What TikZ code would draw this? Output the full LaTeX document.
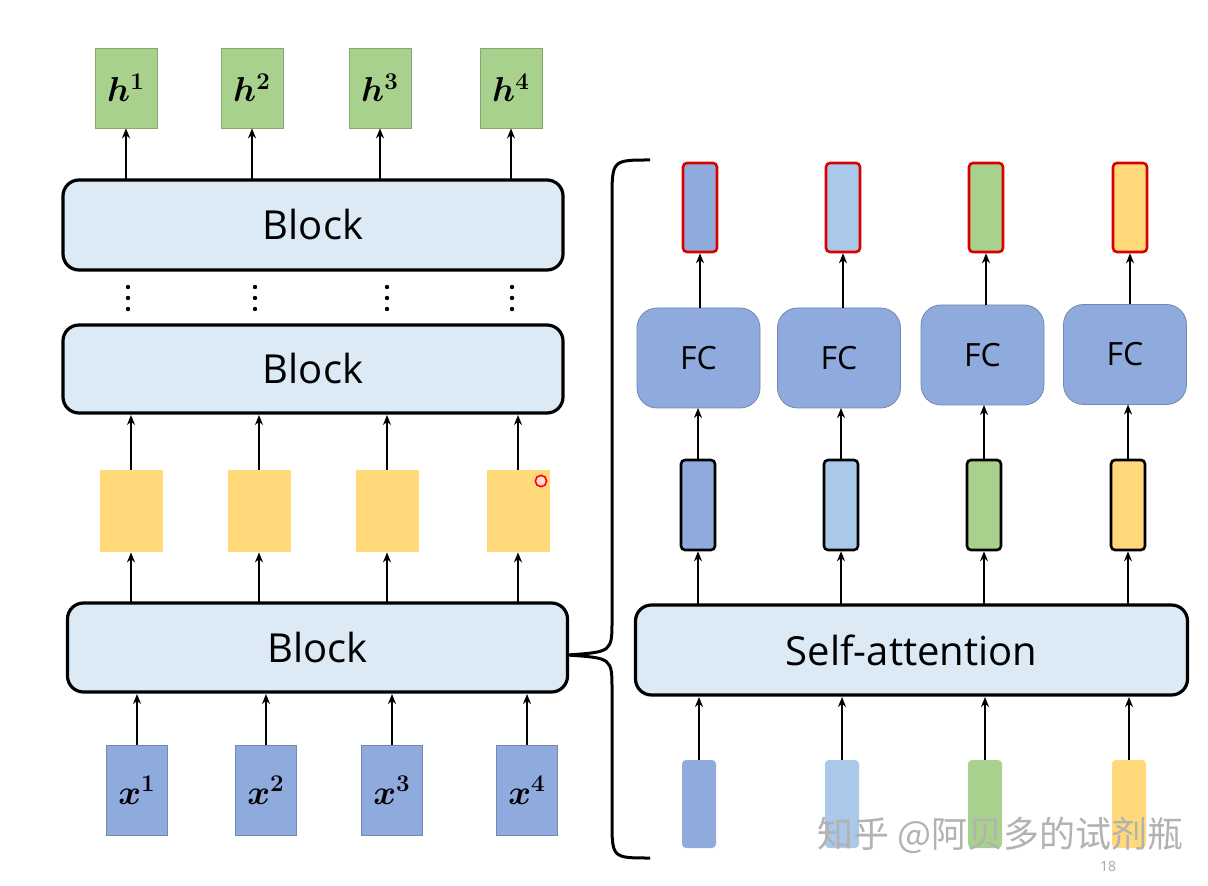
\documentclass[tikz,border=0pt]{standalone}
\usepackage{amsmath}
\usepackage{bm}
\usepackage{fontspec}
\setmainfont{Open Sans}
\newfontfamily\cjk{Noto Sans CJK SC}
\usetikzlibrary{arrows.meta,decorations.pathreplacing}
\begin{document}
\begin{tikzpicture}[x=0.5pt,y=-0.5pt,
  blk/.style={draw=black,line width=1.6pt,rounded corners=8pt,fill=cK,inner sep=0pt,font=\fontsize{20}{24}\selectfont},
  sq/.style={inner sep=0pt,draw=none},
  gr/.style={sq,fill=cG,draw=cG!80!black,line width=0.4pt},
  bl/.style={sq,fill=cB,draw=cB!80!black,line width=0.4pt},
  ye/.style={sq,fill=cY},
  fc/.style={sq,fill=cB,draw=cB!80!black,rounded corners=10pt,font=\fontsize{16}{19}\selectfont},
  vb/.style={sq,draw=black,line width=1.3pt,rounded corners=2pt},
  vr/.style={sq,draw=red!85!black,line width=1.3pt,rounded corners=2pt},
  v0/.style={sq,rounded corners=2pt},
  ar/.style={-{Stealth[length=5pt,width=4pt]},line width=1.1pt}]
\definecolor{cB}{HTML}{8FAADC}
\definecolor{cL}{HTML}{A9C8EA}
\definecolor{cG}{HTML}{A9D18E}
\definecolor{cY}{HTML}{FFD97A}
\definecolor{cK}{HTML}{DCEAF6}
\useasboundingbox (0,0) rectangle (1208,886);
% left
\node[blk,minimum width=250pt,minimum height=45pt] (B3) at (313,225) {Block};
\node[blk,minimum width=250pt,minimum height=44pt] (B2) at (313,369) {Block};
\node[blk,minimum width=250pt,minimum height=44.5pt] (B1) at (317.5,647.5) {Block};
\foreach \i/\xh/\xd/\xy/\xx in {1/126/128/131/137,2/252/255/259/266,3/380/387/387/392,4/511/512/518/527}{
  \node[gr,minimum width=31pt,minimum height=40pt] (h\i) at (\xh,88) {\fontsize{18}{20}\selectfont$\bm{h^{\i}}$};
  \draw[ar] (\xh,180) -- (h\i.south);
  \foreach \yy in {287,298,309}{\fill (\xd,\yy) circle (2.2);}
  \node[ye,minimum width=31.5pt,minimum height=41pt] (y\i) at (\xy,511) {};
  \draw[ar] (\xy,603) -- (y\i.south);
  \draw[ar] (y\i.north) -- (\xy,415);
  \node[bl,minimum width=30.5pt,minimum height=45pt] (x\i) at (\xx,790) {\fontsize{18}{20}\selectfont$\bm{x^{\i}}$};
  \draw[ar] (x\i.north) -- (\xx,694);
}
\node[fill=red!15,draw=red,line width=0.8pt,circle,inner sep=2pt] (rd) at (541,481) {};
% brace
\coordinate (bt) at (650,160);
\coordinate (bb) at (650,858);
\draw[line width=1.5pt] (bt) .. controls (612,160) .. (612,200) -- (612,620) .. controls (612,652) .. (567,655) .. controls (612,658) .. (612,690) -- (612,820) .. controls (612,858) .. (bb);
% right
\node[blk,minimum width=276pt,minimum height=45pt] (SA) at (911.5,650) {Self-attention};
\foreach \i/\c/\xc/\fx/\fy in {1/cB/699/698.5/358,2/cL/842/839/358,3/cG/985/982.5/355,4/cY/1129/1125/354.5}{
  \node[v0,fill=\c,minimum width=17pt,minimum height=44pt] (u\i) at (\xc,804) {};
  \draw[ar] (u\i.north) -- (\xc,697);
  \node[vb,fill=\c,minimum width=17pt,minimum height=45pt] (m\i) at (\xc-1,505) {};
  \draw[ar] (\xc-1,604) -- (m\i.south);
  \node[fc,minimum width=61.5pt,minimum height=50pt] (f\i) at (\fx,\fy) {FC};
  \draw[ar] (m\i.north) -- (\xc-1,\fy+50);
  \node[vr,fill=\c,minimum width=17pt,minimum height=44.5pt] (t\i) at (\xc+1,207.5) {};
  \draw[ar] (\xc+1,\fy-50) -- (t\i.south);
}
\node[text=gray!60,font=\cjk\fontsize{18}{21}\selectfont,anchor=west] (wm) at (810,835) {知乎 @阿贝多的试剂瓶};
\node[text=gray!70,font=\fontsize{7}{8}\selectfont] (pg) at (1108,866) {18};
\end{tikzpicture}
\end{document}
